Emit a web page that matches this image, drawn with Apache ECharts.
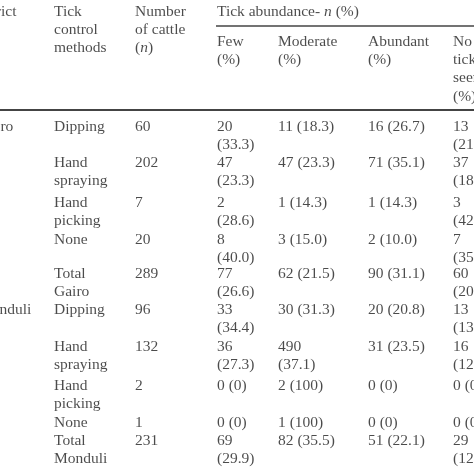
<!DOCTYPE html>
<html><head><meta charset="utf-8">
<script src="https://cdn.jsdelivr.net/npm/echarts@6/dist/echarts.min.js"></script>
<style>html,body{margin:0;padding:0;background:#fff}#c{width:474px;height:474px}</style>
</head><body><div id="c"></div>
<script>
// column left positions (px in table space) and row first-line positions
const colX = [-22, 54, 135, 217, 278, 368, 453];
const rowY = [127, 163, 203, 240, 274, 310, 347, 386, 423, 441];
const lineH = 18.2;

const headers = [
  ["District"], ["Tick","control","methods"], ["Number","of cattle","({i|n})"]
];
const subHeaders = [["Few","(%)"],["Moderate","(%)"],["Abundant","(%)"],["No","tick","seen","(%)"]];
const districts = ["Gairo","","","","","Monduli","","","",""];
const methods = ["Dipping","Hand\nspraying","Hand\npicking","None","Total\nGairo","Dipping","Hand\nspraying","Hand\npicking","None","Total\nMonduli"];
const nCattle = ["60","202","7","20","289","96","132","2","1","231"];
const few = ["20\n(33.3)","47\n(23.3)","2\n(28.6)","8\n(40.0)","77\n(26.6)","33\n(34.4)","36\n(27.3)","0 (0)","0 (0)","69\n(29.9)"];
const moderate = ["11 (18.3)","47 (23.3)","1 (14.3)","3 (15.0)","62 (21.5)","30 (31.3)","490\n(37.1)","2 (100)","1 (100)","82 (35.5)"];
const abundant = ["16 (26.7)","71 (35.1)","1 (14.3)","2 (10.0)","90 (31.1)","20 (20.8)","31 (23.5)","0 (0)","0 (0)","51 (22.1)"];
const noTick = ["13\n(21.7)","37\n(18.3)","3\n(42.9)","7\n(35.0)","60\n(20.8)","13\n(13.5)","16\n(12.1)","0 (0)","0 (0)","29\n(12.6)"];

const cells = [];
function add(col, y, text){ text.split("\n").forEach((t,i)=>{ if(t) cells.push([colX[col], y+i*lineH, t]); }); }
cells.push([-30, 12, headers[0][0]]);
add(1, 12, headers[1].join("\n"));
add(2, 12, headers[2].join("\n"));
cells.push([colX[3], 12, "Tick abundance- {i|n} (%)"]);
subHeaders.forEach((h,k)=>add(3+k, 42, h.join("\n")));
const cols = [districts, methods, nCattle, few, moderate, abundant, noTick];
rowY.forEach((y,r)=>cols.forEach((arr,c)=>add(c, y, arr[r])));

const chart = echarts.init(document.getElementById('c'));
chart.setOption({
  animation:false,
  grid:{left:0,right:0,top:0,bottom:0},
  xAxis:{type:'value',min:0,max:474,show:false},
  yAxis:{type:'value',min:0,max:474,inverse:true,show:false},
  series:[{
    type:'scatter', symbolSize:0, data:cells, silent:true, clip:false,
    label:{show:true, position:'right', distance:0, formatter:p=>p.value[2],
      fontFamily:'Liberation Serif', fontSize:15.5, color:'#1e1e1e',
      rich:{i:{fontStyle:'italic',fontFamily:'Liberation Serif',fontSize:15.5,color:'#1e1e1e'}}},
    markLine:{symbol:'none', silent:true, label:{show:false},
      data:[
        [{coord:[0,110],lineStyle:{width:2,color:'#444',type:'solid'}},{coord:[474,110]}],
        [{coord:[216,26],lineStyle:{width:1.5,color:'#444',type:'solid'}},{coord:[474,26]}]
      ]}
  }]
});
</script></body></html>
